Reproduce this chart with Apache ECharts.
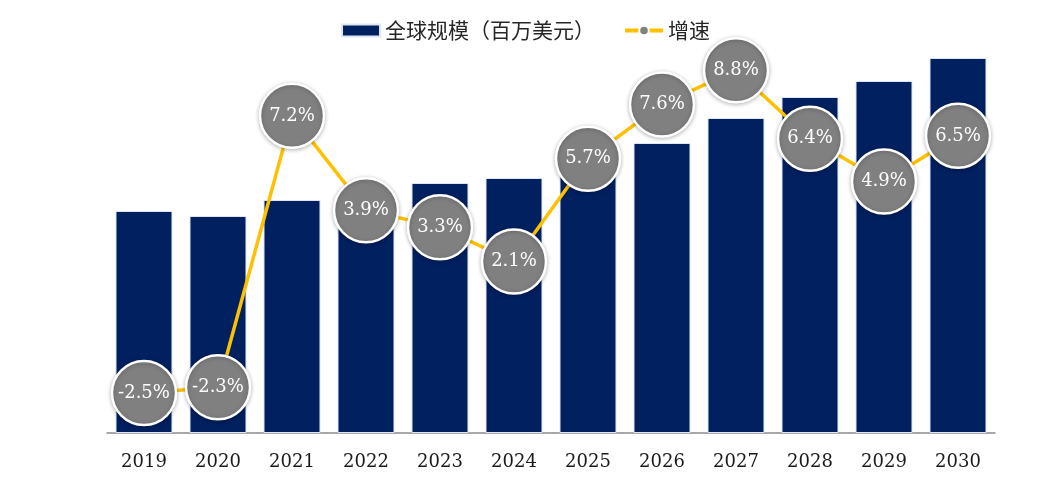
<!DOCTYPE html>
<html>
<head>
<meta charset="utf-8">
<script src="https://cdn.jsdelivr.net/npm/echarts@6/dist/echarts.min.js"></script>
<style>html,body{margin:0;padding:0;background:#fff;}#c{width:1051px;height:500px;}</style>
</head>
<body>
<div id="c"></div>
<script>
var years = ['2019','2020','2021','2022','2023','2024','2025','2026','2027','2028','2029','2030'];
var marketSize = [222, 217, 233, 242, 250, 255, 269, 290, 315, 336, 352, 375];
var growth = [-2.5, -2.3, 7.2, 3.9, 3.3, 2.1, 5.7, 7.6, 8.8, 6.4, 4.9, 6.5];
var seriesNames = ['全球规模（百万美元）', '增速'];

var chart = echarts.init(document.getElementById('c'));
chart.setOption({
  animation: false,
  backgroundColor: '#ffffff',
  legend: {
    top: 15,
    left: 'center',
    itemGap: 28,
    itemWidth: 38,
    itemHeight: 12,
    textStyle: { fontFamily: 'Noto Sans CJK SC', fontSize: 21, color: '#262626' },
    data: [
      { name: seriesNames[0], icon: 'rect' },
      { name: seriesNames[1], lineStyle: { width: 4 } }
    ]
  },
  grid: { left: 107, right: 56, top: 33, bottom: 67 },
  xAxis: {
    type: 'category',
    data: years,
    axisTick: { show: false },
    axisLine: { lineStyle: { color: '#8c8c8c', width: 1.5 } },
    axisLabel: { margin: 20, fontFamily: 'DejaVu Serif', fontSize: 18, color: '#1a1a1a' }
  },
  yAxis: [
    { type: 'value', min: 0, max: 400, show: false, splitLine: { show: false } },
    { type: 'value', min: -3.9, max: 10.1, show: false, splitLine: { show: false } }
  ],
  series: [
    {
      name: seriesNames[0],
      type: 'bar',
      data: marketSize,
      barWidth: '77%',
      itemStyle: { color: '#002060', borderColor: '#dfe6f2', borderWidth: 1 },
      z: 1
    },
    {
      name: seriesNames[1],
      type: 'line',
      yAxisIndex: 1,
      data: growth,
      lineStyle: { color: '#FFC000', width: 3.5 },
      symbol: 'circle',
      symbolSize: 64,
      itemStyle: {
        color: '#808080', borderColor: '#ffffff', borderWidth: 2.5,
        shadowColor: 'rgba(0,0,0,0.25)', shadowBlur: 4, shadowOffsetY: 1
      },
      label: {
        show: true, position: 'inside',
        formatter: function (p) { return p.value.toFixed(1) + '%'; },
        fontFamily: 'DejaVu Serif', fontSize: 18, color: '#ffffff'
      },
      z: 3
    }
  ]
});
</script>
</body>
</html>
